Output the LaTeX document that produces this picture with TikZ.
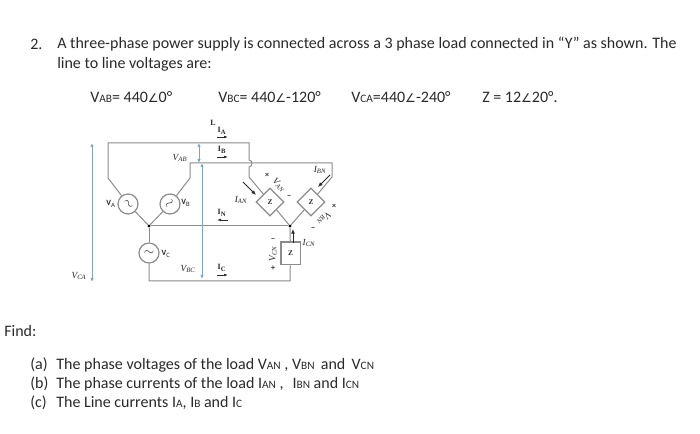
\documentclass[tikz,border=0pt]{standalone}
\usepackage{fontspec}
\setmainfont{Carlito}
\newfontfamily\symfont{DejaVu Sans}
\newfontfamily\serfont{Liberation Serif}
\usetikzlibrary{shapes.geometric,arrows.meta}
\newcommand{\sbs}[1]{{\fontsize{8.5}{8}\selectfont #1}}
\newcommand{\ang}{{\symfont\fontsize{9}{10}\selectfont ∠}}
\newcommand{\lab}[2]{{\serfont\itshape #1\textsubscript{#2}}}
\definecolor{wire}{HTML}{8C8C8C}
\definecolor{meas}{HTML}{7FA6BE}
\definecolor{ink}{HTML}{2A2A2A}
\tikzset{
  txt/.style={anchor=west,inner sep=0pt,text=ink,font=\fontsize{12}{14}\selectfont},
  wireline/.style={draw=wire,line width=0.75pt},
  measline/.style={draw=meas,line width=0.6pt,{Latex[length=3pt,width=2.5pt]}-{Latex[length=3pt,width=2.5pt]}},
  curarrow/.style={draw=ink,line width=0.5pt,-{Latex[length=3pt,width=2pt]}},
  bigarrow/.style={draw=ink,line width=0.7pt,-{Latex[length=3.5pt,width=3pt]}},
  srcnode/.style={circle,draw=wire,line width=0.9pt,minimum size=15pt,inner sep=0pt,fill=white,text=ink},
  loadz/.style={diamond,draw=wire,line width=1pt,minimum size=21pt,inner sep=0pt,fill=white,text=ink,font=\serfont\bfseries\fontsize{5.5}{6}\selectfont},
  boxz/.style={rectangle,draw=wire,line width=1pt,minimum width=14.5pt,minimum height=17pt,inner sep=0pt,fill=white,text=ink,font=\serfont\bfseries\fontsize{5.5}{6}\selectfont},
  mini/.style={inner sep=0pt,text=ink,font=\fontsize{6}{7}\selectfont},
  vlab/.style={inner sep=0pt,text=ink,font=\fontsize{7}{8}\selectfont},
  jdot/.style={circle,fill=black,inner sep=0pt,minimum size=2.4pt},
}
\begin{document}
\begin{tikzpicture}[x=0.75pt,y=-0.75pt]
\useasboundingbox (0,0) rectangle (700,434);
\fill[white] (0,0) rectangle (700,434);
% header text
\node[txt] (t0) at (30,44) {2.};
\node[txt] (t1) at (57,44) {A three-phase power supply is connected across a 3 phase load connected in “Y” as shown. The};
\node[txt] (t2) at (57,64) {line to line voltages are:};
\node[txt] (v1) at (90,97) {V\sbs{AB}= 440\ang0°};
\node[txt] (v2) at (218,97) {V\sbs{BC}= 440\ang-120°};
\node[txt] (v3) at (351,97) {V\sbs{CA}=440\ang-240°};
\node[txt] (v4) at (482,97) {Z = 12\ang20°.};
% find text
\node[txt] (f0) at (4,331) {Find:};
\node[txt] (f1) at (30,365) {(a)\hspace{0.55em}The phase voltages of the load V\sbs{AN} , V\sbs{BN}\, and\, V\sbs{CN}};
\node[txt] (f2) at (30,384) {(b)\hspace{0.5em}The phase currents of the load I\sbs{AN} ,\,\, I\sbs{BN} and I\sbs{CN}};
\node[txt] (f3) at (30,403) {(c)\hspace{0.6em}The Line currents I\sbs{A}, I\sbs{B} and I\sbs{C}};
% junctions
\coordinate (tl) at (108,143);
\coordinate (tlb) at (108,178);
\coordinate (tr) at (249,143);
\coordinate (hopa) at (249,160);
\coordinate (hopb) at (249,167);
\coordinate (trb) at (249,177);
\coordinate (bl) at (190,163);
\coordinate (blb) at (190,178);
\coordinate (br) at (332,163);
\coordinate (brb) at (332,177);
\coordinate (cl) at (149,281);
\coordinate (cr) at (290,281);
% components
\node[jdot] (n1) at (149,226) {};
\node[jdot] (n2) at (290,226) {};
\node[srcnode,rotate=-45] (va) at (128,204) {$\sim$};
\node[srcnode,rotate=45] (vb) at (170,204) {$\sim$};
\node[srcnode] (vc) at (149,253) {$\sim$};
\node[loadz] (za) at (270,202) {Z};
\node[loadz] (zb) at (311,202) {Z};
\node[boxz] (zc) at (290.5,253.5) {Z};
% wires
\draw[wireline] (va) -- (tlb) -- (tl) -- (tr) -- (hopa) .. controls (253,160) and (253,167) .. (hopb) -- (trb) -- (za);
\draw[wireline] (vb) -- (blb) -- (bl) -- (br) -- (brb) -- (zb);
\draw[wireline] (va) -- (n1);
\draw[wireline] (vb) -- (n1);
\draw[wireline] (n1) -- (vc);
\draw[wireline] (vc) -- (cl) -- (cr) -- (zc);
\draw[wireline] (n1) -- (n2);
\draw[wireline] (za) -- (n2);
\draw[wireline] (zb) -- (n2);
\draw[wireline] (n2) -- (zc);
% measurement arrows
\coordinate (ca1) at (92,143); \coordinate (ca2) at (92,282);
\coordinate (ab1) at (199,143); \coordinate (ab2) at (199,163);
\coordinate (bc1) at (202,163); \coordinate (bc2) at (202,279);
\draw[measline] (ca1) -- (ca2);
\draw[measline] (ab1) -- (ab2);
\draw[measline] (bc1) -- (bc2);
% measurement labels
\node[vlab] (lab1) at (180,158) {\lab{V}{AB}};
\node[vlab] (lbc) at (188,269) {\lab{V}{BC}};
\node[vlab] (lca) at (79,276) {\lab{V}{CA}};
% source labels
\node[mini] (lva) at (111,204) {\textbf{V}\textsubscript{A}};
\node[mini] (lvb) at (186,203) {\textbf{V}\textsubscript{B}};
\node[mini] (lvc) at (166,254) {\textbf{V}\textsubscript{C}};
% line currents
\node[mini] (lL) at (213,123) {\serfont\bfseries L};
\node[mini] (lia) at (222,131) {\serfont\bfseries I\textsubscript{A}};
\node[mini] (lib) at (222,150) {\serfont\bfseries I\textsubscript{B}};
\node[mini] (lin) at (222,213) {\serfont\bfseries I\textsubscript{N}};
\node[mini] (lic) at (222,268) {\serfont\bfseries I\textsubscript{C}};
\coordinate (a1) at (217,137); \coordinate (a2) at (228,137);
\coordinate (b1) at (217,157); \coordinate (b2) at (228,157);
\coordinate (c1) at (228,220); \coordinate (c2) at (217,220);
\coordinate (d1) at (217,275); \coordinate (d2) at (228,275);
\draw[curarrow] (a1) -- (a2);
\draw[curarrow] (b1) -- (b2);
\draw[curarrow] (c1) -- (c2);
\draw[curarrow] (d1) -- (d2);
% phase currents
\coordinate (e1) at (243,182); \coordinate (e2) at (256,195);
\coordinate (g1) at (330,175); \coordinate (g2) at (318,187);
\coordinate (h1) at (293,243);
\coordinate (h2) at (293,229);
\draw[bigarrow] (e1) -- (e2);
\draw[bigarrow] (g1) -- (g2);
\draw[bigarrow] (h1) -- (h2);
\node[vlab] (lian) at (241,200) {\lab{I}{AN}};
\node[vlab] (libn) at (320,170) {\lab{I}{BN}};
\node[vlab] (licn) at (309,243) {\lab{I}{CN}};
% phase voltages
\node[vlab,rotate=-45] (lvan) at (279,185) {\lab{V}{AN}};
\node[mini] (pa) at (267,175) {\textbf{×}};
\node[mini] (ma) at (289,197) {\textbf{−}};
\node[vlab,rotate=225] (lvbn) at (324,218) {\lab{V}{BN}};
\node[mini] (pb) at (334,206) {\textbf{×}};
\node[mini] (mb) at (313,229) {\textbf{−}};
\node[vlab,rotate=90] (lvcn) at (273,254) {\lab{V}{CN}};
\node[mini] (pc) at (273,268) {\textbf{+}};
\node[mini] (mc) at (273,240) {\textbf{−}};
\end{tikzpicture}
\end{document}
